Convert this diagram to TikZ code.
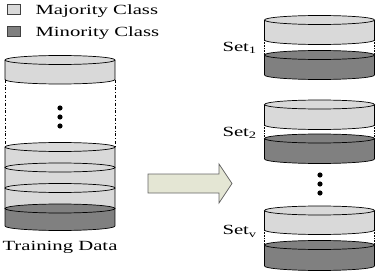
\documentclass[tikz,border=0pt]{standalone}
\usepackage{fontspec}
\setmainfont{Liberation Serif}
\definecolor{majgray}{RGB}{217,217,217}
\definecolor{mingray}{RGB}{128,128,128}
\definecolor{arrowfill}{RGB}{228,230,212}

% one slab of a cylinder: centre x, top y, bottom y, fill
\newcommand{\dataslab}[4]{%
  \fill[#4] (#1-55,#2) rectangle (#1+55,#3);
  \fill[#4] (#1,#3) ellipse (55 and 4.5);
  \draw (#1-55,#2) -- (#1-55,#3) arc[start angle=180, end angle=0, x radius=55, y radius=4.5] -- (#1+55,#2);
  \draw[fill=#4] (#1,#2) ellipse (55 and 4.5);
}

\begin{document}
\begin{tikzpicture}[
    x=1pt, y=-1pt, line width=0.7pt,
    legendbox/.style={draw=black!75, line width=1.1pt, minimum width=13pt, minimum height=10.5pt, inner sep=0pt},
    caption/.style={font=\fontsize{14}{16}\selectfont, xscale=1.48, transform shape, inner sep=0pt},
    gapline/.style={densely dotted, line width=0.6pt},
    bigarrow/.style={draw=black!60, fill=arrowfill, line width=0.7pt}
]
  \useasboundingbox (0,0) rectangle (376,273);

  % Legend
  \node[legendbox, fill=majgray] (majbox) at (14,9.5) {};
  \node[legendbox, fill=mingray] (minbox) at (14,31.5) {};
  \node[caption, anchor=base west] (majtext) at (35,15) {Majority Class};
  \node[caption, anchor=base west] (mintext) at (35,37) {Minority Class};

  % Training data
  \dataslab{60}{60}{79.5}{majgray}
  \draw[dash dot, line width=0.5pt] (5,79.5) -- (5,147);
  \draw[dash dot, line width=0.5pt] (115,79.5) -- (115,147);
  \foreach \y in {108,117,126} \fill (60,\y) circle (2.6);
  \dataslab{60}{147}{167.5}{majgray}
  \dataslab{60}{167.5}{188}{majgray}
  \dataslab{60}{188}{208.5}{majgray}
  \dataslab{60}{208.5}{226}{mingray}
  \node[caption, anchor=base] (train) at (60,250.5) {Training Data};

  % Arrow
  \draw[bigarrow] (148,174) -- (219,174) -- (219,164) -- (232,183.5) -- (219,203) -- (219,193) -- (148,193) -- cycle;

  % Balanced sets
  \dataslab{319.5}{20}{40}{majgray}
  \draw[gapline] (264.5,40) -- (264.5,55);
  \draw[gapline] (374.5,40) -- (374.5,55);
  \dataslab{319.5}{55}{75}{mingray}
  \node[caption, anchor=base west] (set1) at (222,51.5) {Set\textsubscript{1}};

  \dataslab{319.5}{104.5}{125}{majgray}
  \draw[gapline] (264.5,125) -- (264.5,138.5);
  \draw[gapline] (374.5,125) -- (374.5,138.5);
  \dataslab{319.5}{138.5}{159}{mingray}
  \node[caption, anchor=base west] (set2) at (222,136.5) {Set\textsubscript{2}};

  \foreach \y in {175,184,193} \fill (320,\y) circle (2.6);

  \dataslab{319.5}{210.5}{230}{majgray}
  \draw[gapline] (264.5,230) -- (264.5,245);
  \draw[gapline] (374.5,230) -- (374.5,245);
  \dataslab{319.5}{245}{266}{mingray}
  \node[caption, anchor=base west] (setv) at (222,235) {Set\textsubscript{v}};
\end{tikzpicture}
\end{document}
